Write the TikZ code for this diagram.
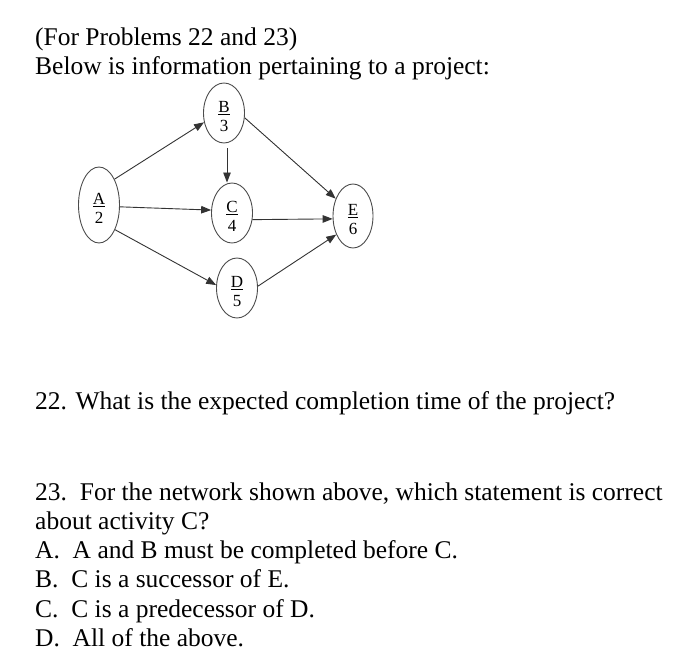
\documentclass[tikz,border=0pt]{standalone}
\usepackage{fontspec}
\setmainfont{Liberation Serif}
\usetikzlibrary{arrows.meta,shapes.geometric}
\tikzset{
	act/.style={ellipse,draw=black!70,line width=0.9pt,inner sep=0pt,minimum width=41pt,minimum height=60pt,
		font=\fontsize{17}{17}\selectfont},
	arr/.style={draw=black!80,line width=0.9pt,-{Triangle[length=10pt,width=7.5pt]}},
	txt/.style={anchor=base west,inner sep=0pt,font=\fontsize{25.5}{29}\selectfont}
}
\newcommand{\actlabel}[2]{\raisebox{-10pt}[0pt][0pt]{\begin{tabular}{@{}c@{}}\underline{#1}\\[2pt]#2\end{tabular}}}
\begin{document}
\begin{tikzpicture}[x=1pt,y=-1pt]
	\useasboundingbox (0,0) rectangle (700,668);
	% heading
	\node[txt] (head1) at (35,46) {(For Problems 22 and 23)};
	\node[txt] (head2) at (35,75) {Below is information pertaining to a project:};
	% network
	\node[act,minimum height=76pt] (A) at (99,205) {\actlabel{A}{2}};
	\node[act] (B) at (224,113) {\actlabel{B}{3}};
	\node[act] (C) at (232,213) {\actlabel{C}{4}};
	\node[act] (D) at (237,288) {\actlabel{D}{5}};
	\node[act,minimum height=64pt,minimum width=40pt] (E) at (353,216) {\actlabel{E}{6}};
	\draw[arr] (A.59) -- (B.205);
	\draw[arr] (A.-5) -- (C.172);
	\draw[arr] (A.-57) -- (D.172);
	\draw[arr] ([xshift=3pt,yshift=-5pt]B.south) -- ([xshift=-5pt]C.north);
	\draw[arr] (B.-13) -- (E.135);
	\draw[arr] (C.-18) -- (E.188);
	\draw[arr] (D.5) -- (E.228);
	% questions
	\node[txt] (q22) at (35,409) {22. What is the expected completion time of the project?};
	\node[txt] (q23) at (35,500) {23.\ \ For the network shown above, which statement is correct};
	\node[txt] (q23b) at (35,529) {about activity C?};
	\node[txt] (optA) at (35,558) {A.\ \ A and B must be completed before C.};
	\node[txt] (optB) at (35,587) {B.\ \ C is a successor of E.};
	\node[txt] (optC) at (35,617) {C.\ \ C is a predecessor of D.};
	\node[txt] (optD) at (35,646) {D.\ \ All of the above.};
\end{tikzpicture}
\end{document}
